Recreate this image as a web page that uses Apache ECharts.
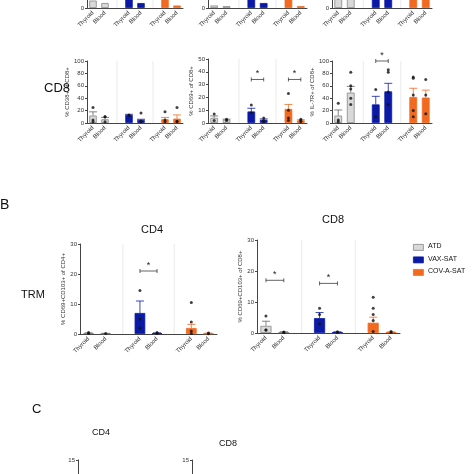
<!DOCTYPE html>
<html>
<head>
<meta charset="utf-8">
<script src="https://cdn.jsdelivr.net/npm/echarts@6/dist/echarts.min.js"></script>
<style>html,body{margin:0;padding:0;background:#fff}#main{width:474px;height:474px}</style>
</head>
<body>
<div id="main"></div>
<script>
// categories: pairs per group, empty slot between groups
var categories = ['Thyroid', 'Blood', '', 'Thyroid', 'Blood', '', 'Thyroid', 'Blood'];
var groupNames = ['ATD', 'VAX-SAT', 'COV-A-SAT'];
var groupColors = ['#d9d9d9', '#0b1aa6', '#f26a21'];
var errColors = ['#666', '#0b1aa6', '#f26a21'];

// top row (mostly cut off)
var topCd38Mean = [12, 8, 30, 8, 25, 4];
var topCd69Mean = [4, 3, 40, 8, 40, 3];
var topIl7Mean = [60, 70, 60, 70, 60, 70];

// CD8 row
var cd38Mean = [12, 6, 13, 5, 6, 7];
var cd38Sem = [6, 3, 1, 1, 3, 6];
var cd38Dots = [[25, 5, 2], [10, 10, 2], [13, 12], [16, 3, 2], [18, 5, 2], [25, 3, 2]];
var cd69Mean = [4, 2.5, 9, 2.5, 11, 2];
var cd69Sem = [1.5, 0.5, 2.5, 0.7, 3.5, 0.5];
var cd69Dots = [[7, 2], [3, 2], [14, 8], [4, 2, 1], [23, 10, 4, 2], [3, 2, 1]];
var cd69Sig = [[3, 4, 34], [6, 7, 34]];
var il7Mean = [12, 49, 30, 51, 42, 41];
var il7Sem = [9, 10, 13, 13, 14, 12];
var il7Dots = [[32, 5, 2], [82, 60, 55, 40, 30], [54, 10], [86, 82, 50, 30], [74, 72, 45, 20, 10], [70, 45, 15]];
var il7Sig = [[3, 4, 100]];

// TRM
var trm4Mean = [0.3, 0.2, 7, 0.3, 2, 0.2];
var trm4Sem = [0.1, 0.05, 4, 0.1, 1.2, 0.1];
var trm4Dots = [[0.5, 0.2], [0.2], [14.5, 5, 2], [0.5, 0.2], [10.5, 4, 1, 0.2], [0.3, 0.1]];
var trm4Sig = [[3, 4, 21]];
var trm8Mean = [2.3, 0.3, 4.8, 0.3, 3.3, 0.3];
var trm8Sem = [1.5, 0.1, 1.8, 0.1, 1.8, 0.1];
var trm8Dots = [[5.5, 1, 1], [0.3, 0.2], [8, 6, 3], [0.4, 0.2], [11.5, 8, 6, 4, 0.5], [0.5, 0.2]];
var trm8Sig = [[0, 1, 17], [3, 4, 16]];

var grids = [], xAxes = [], yAxes = [], series = [];

// map value index 0..5 to slot 0..7
function slotOf(i) { return i + Math.floor(i / 2); }
function groupOf(i) { return Math.floor(i / 2); }

function addPanel(rect, max, interval, means, sems, dots, sigs, yName) {
    var k = grids.length;
    rect.outerBoundsMode = 'none';
    rect.containLabel = false;
    grids.push(rect);
    xAxes.push({
        type: 'category', gridIndex: k, data: categories,
        axisLine: {lineStyle: {color: '#444', width: 1}},
        axisTick: {show: false},
        axisLabel: {rotate: 45, fontSize: 6, color: '#333', interval: 0, margin: 4}
    });
    yAxes.push({
        type: 'value', gridIndex: k, min: 0, max: max, interval: interval,
        name: yName, nameLocation: 'middle', nameGap: 14,
        nameTextStyle: {fontSize: 6, color: '#333'},
        axisLine: {show: true, lineStyle: {color: '#444', width: 1}},
        axisTick: {show: true, length: 2},
        axisLabel: {fontSize: 6, color: '#333', margin: 3},
        splitLine: {show: false}
    });
    if (!means) return;
    var barData = categories.map(function () { return null; });
    means.forEach(function (v, i) {
        var g = groupOf(i);
        barData[slotOf(i)] = {value: v, itemStyle: {color: groupColors[g],
            borderColor: g === 0 ? '#888' : groupColors[g], borderWidth: 0.8}};
    });
    series.push({type: 'bar', xAxisIndex: k, yAxisIndex: k, data: barData, barWidth: '62%', silent: true});
    // group separators
    series.push({
        type: 'custom', xAxisIndex: k, yAxisIndex: k, data: [[2], [5]], silent: true,
        renderItem: function (p, api) {
            var a = api.coord([api.value(0), 0]), b = api.coord([api.value(0), max]);
            return {type: 'line', shape: {x1: a[0], y1: a[1], x2: b[0], y2: b[1]}, style: {stroke: '#e4e4e4', lineWidth: 0.8}};
        }
    });
    if (sems) {
        series.push({
            type: 'custom', xAxisIndex: k, yAxisIndex: k, silent: true, z: 3,
            data: means.map(function (m, i) { return [slotOf(i), m, sems[i], groupOf(i)]; }),
            renderItem: function (p, api) {
                var a = api.coord([api.value(0), api.value(1)]);
                var b = api.coord([api.value(0), api.value(1) + api.value(2)]);
                var c = errColors[api.value(3)];
                return {type: 'group', children: [
                    {type: 'line', shape: {x1: a[0], y1: a[1], x2: b[0], y2: b[1]}, style: {stroke: c, lineWidth: 0.8}},
                    {type: 'line', shape: {x1: b[0] - 4, y1: b[1], x2: b[0] + 4, y2: b[1]}, style: {stroke: c, lineWidth: 0.8}}
                ]};
            }
        });
    }
    if (dots) {
        var pts = [];
        dots.forEach(function (arr, i) {
            arr.forEach(function (v) { pts.push([slotOf(i), v]); });
        });
        series.push({type: 'scatter', xAxisIndex: k, yAxisIndex: k, data: pts, symbolSize: 3,
            itemStyle: {color: '#111'}, silent: true, z: 4});
    }
    if (sigs) {
        series.push({
            type: 'custom', xAxisIndex: k, yAxisIndex: k, data: sigs, silent: true, z: 5,
            renderItem: function (p, api) {
                var a = api.coord([api.value(0), api.value(2)]);
                var b = api.coord([api.value(1), api.value(2)]);
                return {type: 'group', children: [
                    {type: 'line', shape: {x1: a[0], y1: a[1], x2: b[0], y2: b[1]}, style: {stroke: '#222', lineWidth: 0.7}},
                    {type: 'line', shape: {x1: a[0], y1: a[1] - 2, x2: a[0], y2: a[1] + 2}, style: {stroke: '#222', lineWidth: 0.7}},
                    {type: 'line', shape: {x1: b[0], y1: b[1] - 2, x2: b[0], y2: b[1] + 2}, style: {stroke: '#222', lineWidth: 0.7}},
                    {type: 'text', style: {x: (a[0] + b[0]) / 2, y: a[1] - 1, text: '*', fontSize: 9,
                        align: 'center', verticalAlign: 'bottom', fill: '#222'}}
                ]};
            }
        });
    }
}

// top row, cropped at the top of the picture
addPanel({left: 87, top: -54, width: 96, height: 62}, 100, 20, topCd38Mean, null, null, null, '');
addPanel({left: 208, top: -54, width: 99, height: 62}, 100, 20, topCd69Mean, null, null, null, '');
addPanel({left: 332, top: -54, width: 100, height: 62}, 100, 20, topIl7Mean, null, null, null, '');
// CD8 row
addPanel({left: 87, top: 61, width: 96, height: 62}, 100, 20, cd38Mean, cd38Sem, cd38Dots, null, '% CD38+ of CD8+');
addPanel({left: 208, top: 59, width: 99, height: 64}, 50, 10, cd69Mean, cd69Sem, cd69Dots, cd69Sig, '% CD69+ of CD8+');
addPanel({left: 332, top: 61, width: 100, height: 62}, 100, 20, il7Mean, il7Sem, il7Dots, il7Sig, '% IL-7R+ of CD8+');
// TRM
addPanel({left: 80, top: 244, width: 137, height: 90}, 30, 10, trm4Mean, trm4Sem, trm4Dots, trm4Sig, '% CD69+CD103+ of CD4+');
addPanel({left: 257, top: 240, width: 143, height: 93}, 30, 10, trm8Mean, trm8Sem, trm8Dots, trm8Sig, '% CD69+CD103+ of CD8+');
// panel C, cropped at the bottom
addPanel({left: 78, top: 460, width: 90, height: 90}, 15, 5, null, null, null, null, '');
addPanel({left: 192, top: 460, width: 90, height: 90}, 15, 5, null, null, null, null, '');

function txt(x, y, s, size) {
    return {type: 'text', left: x, top: y, style: {text: s, fontSize: size, fill: '#111', fontFamily: 'Liberation Sans'}};
}
var graphics = [
    txt(44, 82, 'CD8', 13),
    txt(0, 198, 'B', 14),
    txt(141, 224, 'CD4', 11),
    txt(322, 214, 'CD8', 11),
    txt(21, 289, 'TRM', 11),
    txt(32, 403, 'C', 13),
    txt(92, 428, 'CD4', 9),
    txt(219, 439, 'CD8', 9)
];
groupNames.forEach(function (n, i) {
    var y = 244 + i * 12.5;
    graphics.push({type: 'rect', left: 413, top: y, shape: {width: 10, height: 6},
        style: {fill: groupColors[i], stroke: i === 0 ? '#888' : groupColors[i], lineWidth: 0.8}});
    graphics.push(txt(428, y - 1, n, 7));
});

var chart = echarts.init(document.getElementById('main'));
chart.setOption({
    animation: false,
    textStyle: {fontFamily: 'Liberation Sans'},
    grid: grids, xAxis: xAxes, yAxis: yAxes, series: series, graphic: graphics
});
</script>
</body>
</html>
